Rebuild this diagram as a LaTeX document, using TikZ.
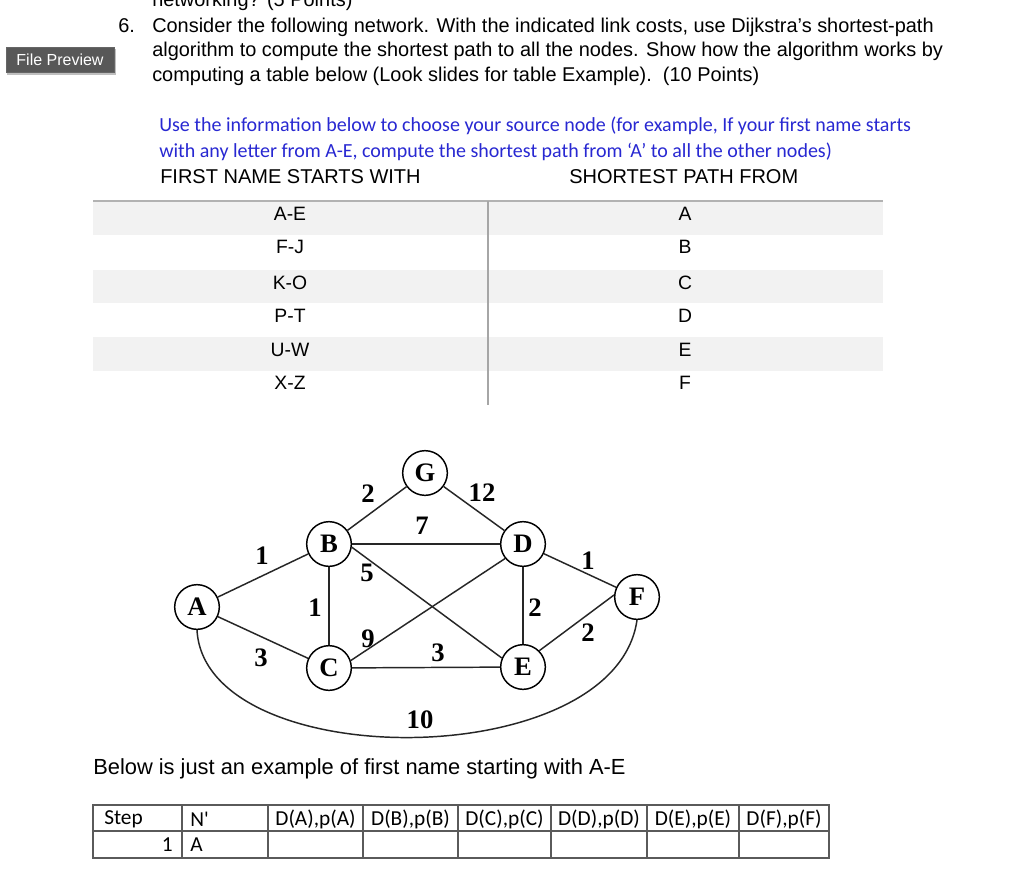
\documentclass[tikz,border=0pt]{standalone}
\usepackage{fontspec}
\setmainfont{Liberation Sans}
\newfontfamily\calfont{Carlito}
\newfontfamily\tmsfont{Liberation Serif}
\definecolor{qblue}{RGB}{40,40,210}
\definecolor{rowgray}{RGB}{242,242,242}
\definecolor{btngray}{RGB}{88,88,88}
\definecolor{tblline}{RGB}{90,90,90}
\begin{document}
\begin{tikzpicture}[x=0.75pt,y=-0.75pt,
  maintxt/.style={font=\fontsize{14.95pt}{17pt}\selectfont, inner sep=0pt, anchor=base west},
  bluetxt/.style={font=\calfont\fontsize{15pt}{17pt}\selectfont, text=qblue, inner sep=0pt, anchor=base west},
  tbltxt/.style={font=\fontsize{14.5pt}{16pt}\selectfont, inner sep=0pt},
  gnode/.style={circle, draw, line width=1.1pt, minimum size=33.5pt, inner sep=0pt, font=\tmsfont\bfseries\fontsize{20pt}{20pt}\selectfont},
  glabel/.style={font=\tmsfont\bfseries\fontsize{20pt}{20pt}\selectfont, inner sep=0pt},
  edge/.style={line width=1.1pt, black!85},
  ctxt/.style={font=\calfont\fontsize{16pt}{18pt}\selectfont, inner sep=0pt}]
\useasboundingbox (0,0) rectangle (1024,878);
\fill[white] (0,0) rectangle (1024,878);

% top text
\node[maintxt] (t0) at (152,6.5) {networking? (5 Points)};
\node[maintxt] (t1n) at (118,32) {6.};
\node[maintxt] (t1) at (152,32) {Consider the following network. With the indicated link costs, use Dijkstra’s shortest-path};
\node[maintxt] (t2) at (152,56.5) {algorithm to compute the shortest path to all the nodes. Show how the algorithm works by};
\node[maintxt] (t3) at (152,81) {computing a table below (Look slides for table Example).\ \ (10 Points)};

% file preview button
\fill[black!25] (7,49) rectangle (116,75);
\node[draw=black!60, fill=btngray, minimum width=81pt, minimum height=19pt, inner sep=0pt, text=white, font=\fontsize{12pt}{13pt}\selectfont] (btn) at (60,60) {File Preview};

% blue text
\node[bluetxt] (b1) at (159,131) {Use the information below to choose your source node (for example, If your first name starts};
\node[bluetxt] (b2) at (159,157) {with any letter from A-E, compute the shortest path from ‘A’ to all the other nodes)};
\node[maintxt, font=\fontsize{15pt}{17pt}\selectfont] (h1) at (160,183) {FIRST NAME STARTS WITH};
\node[maintxt, font=\fontsize{15pt}{17pt}\selectfont] (h2) at (569,183) {SHORTEST PATH FROM};

% table
\fill[rowgray] (93,201) rectangle (883,235);
\fill[rowgray] (93,270) rectangle (883,303);
\fill[rowgray] (93,337) rectangle (883,371);
\draw[black!30, line width=1.5pt] (93,201) -- (883,201);
\draw[black!35, line width=0.9pt] (488,201) -- (488,405);
\foreach \l/\r/\y in {A-E/A/214, F-J/B/247, K-O/C/283, P-T/D/316, U-W/E/350, X-Z/F/383}{
  \node[tbltxt] (l\l) at (290,\y) {\l};
  \node[tbltxt] (r\r) at (685,\y) {\r};
}

% graph
\node[gnode] (A) at (197,607) {A};
\node[gnode] (B) at (329,544) {B};
\node[gnode] (C) at (329,668) {C};
\node[gnode] (G) at (425,473) {G};
\node[gnode] (D) at (523,544) {D};
\node[gnode] (E) at (523,667) {E};
\node[gnode] (F) at (637,597) {F};
\draw[edge] (A) -- (B);
\draw[edge] (A) -- (C);
\draw[edge] (B) -- (C);
\draw[edge] (B) -- (G);
\draw[edge] (G) -- (D);
\draw[edge] (B) -- (D);
\draw[edge] (B.-8) -- (E.157);
\draw[edge] (C.19) -- (D.-141);
\draw[edge] (C) -- (E);
\draw[edge] (D) -- (E);
\draw[edge] (D) -- (F);
\draw[edge] (E.45) -- (F.175);
\draw[edge] (A.south) .. controls (205,775) and (615,775) .. (F.south);
\node[glabel] (lab1) at (262,556) {1};
\node[glabel] (lab2) at (261,658) {3};
\node[glabel] (lab3) at (368,494) {2};
\node[glabel] (lab4) at (482,493) {12};
\node[glabel] (lab5) at (422,526) {7};
\node[glabel] (lab6) at (367,573) {5};
\node[glabel] (lab7) at (315,608) {1};
\node[glabel] (lab8) at (368,639) {9};
\node[glabel] (lab9) at (438,653) {3};
\node[glabel] (lab10) at (535,608) {2};
\node[glabel] (lab11) at (588,561) {1};
\node[glabel] (lab12) at (588,633) {2};
\node[glabel] (lab13) at (420,720) {10};

% below text
\node[maintxt, font=\fontsize{16.4pt}{18pt}\selectfont] (below) at (93,774) {Below is just an example of first name starting with A-E};

% bottom table
\draw[tblline, line width=1.1pt] (93,805) rectangle (829,858);
\draw[tblline, line width=1.1pt] (93,831) -- (829,831);
\foreach \x in {182,268,363,458,551,647,739}{
  \draw[tblline, line width=1.1pt] (\x,805) -- (\x,858);
}
\node[ctxt, anchor=west] (cs) at (104,819) {Step};
\node[ctxt, anchor=west] (cn) at (190,819) {N'};
\node[ctxt] (c1) at (315.5,819) {D(A),p(A)};
\node[ctxt] (c2) at (410.5,819) {D(B),p(B)};
\node[ctxt] (c3) at (504.5,819) {D(C),p(C)};
\node[ctxt] (c4) at (599,819) {D(D),p(D)};
\node[ctxt] (c5) at (693,819) {D(E),p(E)};
\node[ctxt] (c6) at (784,819) {D(F),p(F)};
\node[ctxt, anchor=east] (s1) at (173,845) {1};
\node[ctxt, anchor=west] (n1) at (190,845) {A};
\end{tikzpicture}
\end{document}
